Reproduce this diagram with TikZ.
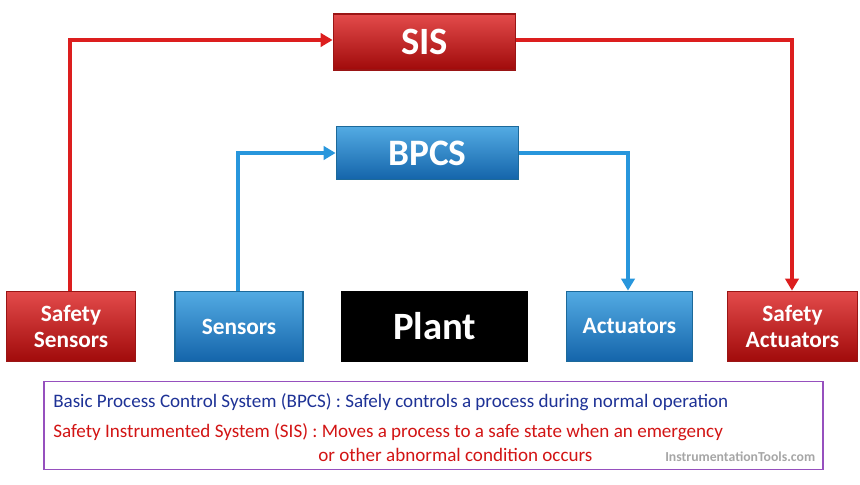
\documentclass[tikz,border=0pt]{standalone}
\usepackage{fontspec}
\setmainfont{Carlito}
\usetikzlibrary{arrows.meta}
\definecolor{rd}{RGB}{220,30,30}
\definecolor{rdd}{RGB}{160,10,10}
\definecolor{bl}{RGB}{40,150,220}
\definecolor{bld}{RGB}{20,100,170}
\definecolor{txtb}{RGB}{30,50,150}
\definecolor{txtr}{RGB}{210,20,20}
\definecolor{pur}{RGB}{150,80,190}
\begin{document}
\begin{tikzpicture}[x=0.75pt,y=-0.75pt,
 box/.style={draw=#1!70!black,line width=0.8pt,text=white,font=\bfseries,align=center,inner sep=0pt},
 redbox/.style={box=rd,top color=rd!80!white,bottom color=rdd},
 bluebox/.style={box=bl,top color=bl!80!white,bottom color=bld},
 rline/.style={draw=rd,line width=3pt,-{Triangle[length=9pt,width=10pt]}},
 bline/.style={draw=bl,line width=3pt,-{Triangle[length=9pt,width=10pt]}}]
\useasboundingbox (0,0) rectangle (860,485);
\node[redbox,minimum width=137pt,minimum height=42pt,font=\bfseries\fontsize{29}{32}\selectfont] (sis) at (424.5,42) {SIS};
\node[bluebox,minimum width=137pt,minimum height=40pt,font=\bfseries\fontsize{28}{32}\selectfont] (bpcs) at (427.5,153) {BPCS};
\node[redbox,minimum width=97pt,minimum height=53pt,font=\bfseries\fontsize{17.5}{20}\selectfont] (ss) at (71,326.5) {Safety\\Sensors};
\node[bluebox,minimum width=96pt,minimum height=53pt,font=\bfseries\fontsize{17.5}{20}\selectfont] (sen) at (239,326.5) {Sensors};
\node[box=black,fill=black,minimum width=140pt,minimum height=53pt,font=\bfseries\fontsize{29}{32}\selectfont] (plant) at (434.5,326.5) {Plant};
\node[bluebox,minimum width=95pt,minimum height=53pt,font=\bfseries\fontsize{17.5}{20}\selectfont] (act) at (629.5,326.5) {Actuators};
\node[redbox,minimum width=97pt,minimum height=53pt,font=\bfseries\fontsize{17.5}{20}\selectfont] (sa) at (792.5,326.5) {Safety\\Actuators};
\coordinate (c1) at (70,40);
\coordinate (c2) at (792,40);
\coordinate (c3) at (238,153);
\coordinate (c4) at (628,153);
\draw[rline] (ss.north -| c1) -- (c1) -- (sis.west |- c1);
\draw[rline] (sis.east |- c2) -- (c2) -- (sa.north -| c2);
\draw[bline] (sen.north -| c3) -- (c3) -- (bpcs.west |- c3);
\draw[bline] (bpcs.east |- c4) -- (c4) -- (act.north -| c4);
\node[draw=pur,line width=1.2pt,minimum width=584pt,minimum height=66pt,inner sep=0pt] (frame) at (433.5,425.5) {};
\node[anchor=west,text=txtb,font=\fontsize{14.3}{16}\selectfont,inner sep=0pt] (l1) at (53,402) {Basic Process Control System (BPCS) : Safely controls a process during normal operation};
\node[anchor=west,text=txtr,font=\fontsize{14.3}{16}\selectfont,inner sep=0pt] (l2) at (53,432) {Safety Instrumented System (SIS) : Moves a process to a safe state when an emergency};
\node[anchor=west,text=txtr,font=\fontsize{14.3}{16}\selectfont,inner sep=0pt] (l3) at (318,455) {or other abnormal condition occurs};
\node[anchor=west,text=gray!70,font=\bfseries\fontsize{10.3}{12}\selectfont,inner sep=0pt] (wm) at (665,457) {InstrumentationTools.com};
\end{tikzpicture}
\end{document}
